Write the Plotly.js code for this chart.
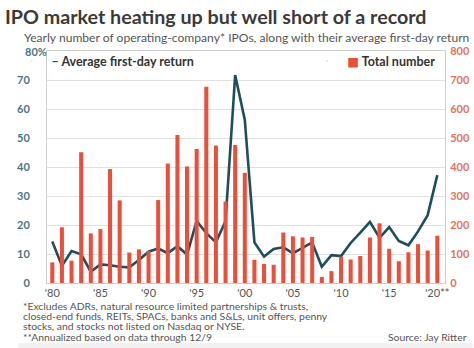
<!DOCTYPE html>
<html>
<head>
<meta charset="utf-8">
<script src="https://cdn.plot.ly/plotly-3.0.1.min.js"></script>
<style>
html,body{margin:0;padding:0;background:#fff;}
#chart{width:474px;height:348px;}
</style>
</head>
<body>
<div id="chart"></div>
<script>
// ---- Data ----
const years = [1980,1981,1982,1983,1984,1985,1986,1987,1988,1989,
               1990,1991,1992,1993,1994,1995,1996,1997,1998,1999,
               2000,2001,2002,2003,2004,2005,2006,2007,2008,2009,
               2010,2011,2012,2013,2014,2015,2016,2017,2018,2019,2020];
const totalNumber = [71,192,77,451,171,186,393,285,105,116,
                     110,286,412,510,402,462,677,474,281,476,
                     380,80,66,63,174,161,157,159,21,41,
                     91,81,93,157,206,118,75,106,134,112,163];
const avgFirstDayReturn = [14.3,5.9,11.0,9.9,3.9,6.4,6.1,5.6,5.4,7.9,
                           10.8,11.9,10.3,12.7,9.8,21.4,17.2,14.0,21.4,71.7,
                           56.2,14.0,9.1,11.7,12.3,10.3,12.1,14.0,5.6,9.6,
                           9.3,13.8,17.4,21.1,15.6,19.3,14.5,13.0,17.8,23.4,37.2];
const xTickVals = [1980,1985,1990,1995,2000,2005,2010,2015,2020];
const xTickText = ["'80","'85","'90","'95","'00","'05","'10","'15","'20**"];
const leftTickVals = [0,10,20,30,40,50,60,70];
const rightTickVals = [0,100,200,300,400,500,600,700,800];

const TEAL = '#1e4d5c';
const RED = '#e9503b';
const LEFTTICK = '#4b7580';
const RIGHTTICK = '#de7461';
const FONT = 'Lato, "Open Sans", sans-serif';

const traces = [
  {
    type: 'bar', x: years, y: totalNumber, yaxis: 'y2',
    marker: {color: RED}, width: 0.42, showlegend: false, hoverinfo: 'x+y'
  },
  {
    type: 'scatter', mode: 'lines', x: years, y: avgFirstDayReturn, yaxis: 'y',
    line: {color: TEAL, width: 2.6}, showlegend: false
  },
  // legend entries
  {
    type: 'scatter', mode: 'markers', x: [null], y: [null],
    marker: {opacity: 0, size: 1},
    name: '<span style="color:' + TEAL + '">–</span> Average first-day return',
    legend: 'legend', showlegend: true
  },
  {
    type: 'scatter', mode: 'markers', x: [null], y: [null],
    marker: {opacity: 0, size: 1},
    name: '<span style="color:' + RED + ';font-family:DejaVu Sans">■</span> Total number',
    legend: 'legend2', showlegend: true
  }
];

const H = 232;
function py(p){ return (283 - p) / H; }
function px(p){ return (p - 30) / 415; }

const NOTE = {family: FONT, size: 10.4, color: '#555'};

const layout = {
  width: 474, height: 348,
  margin: {l: 30, r: 29, t: 51, b: 65},
  paper_bgcolor: '#fff', plot_bgcolor: '#fff',
  font: {family: FONT, color: '#444'},
  title: {
    text: '<b>IPO market heating up but well short of a record</b>',
    font: {family: FONT, size: 19.7, color: '#3a3a3a'},
    x: 5/474, xref: 'container', xanchor: 'left',
    y: 1 - 17/348, yref: 'container', yanchor: 'middle'
  },
  xaxis: {
    range: [1979.45, 2020.8], tickvals: xTickVals, ticktext: xTickText,
    tickfont: {size: 11, color: '#555'}, ticks: '', showgrid: false, zeroline: false,
    showline: true, linecolor: '#cfcfcf', linewidth: 1, mirror: true,
    ticklabelstandoff: 0
  },
  yaxis: {
    range: [0, 80], tickvals: leftTickVals, gridcolor: '#e0e0e0', gridwidth: 1,
    tickfont: {size: 11, color: LEFTTICK, weight: 'bold'}, ticks: '',
    showline: true, linecolor: '#cfcfcf', linewidth: 1, zeroline: false,
    ticklabelstandoff: 14
  },
  yaxis2: {
    range: [0, 800], tickvals: rightTickVals, overlaying: 'y', side: 'right',
    showgrid: false, zeroline: false, ticks: '',
    tickfont: {size: 11, color: RIGHTTICK, weight: 'bold'},
    showline: true, linecolor: '#cfcfcf', linewidth: 1, ticklabelstandoff: 2
  },
  legend: {
    x: px(-7), xanchor: 'left', y: py(61), yanchor: 'middle',
    bgcolor: 'rgba(0,0,0,0)', borderwidth: 0, itemwidth: 30,
    font: {family: FONT, size: 12.5, color: '#333', weight: 'bold'}
  },
  legend2: {
    x: px(440), xanchor: 'right', y: py(61), yanchor: 'middle',
    bgcolor: 'rgba(0,0,0,0)', borderwidth: 0, itemwidth: 30,
    font: {family: FONT, size: 12.5, color: '#333', weight: 'bold'}
  },
  shapes: [
    {type: 'rect', xref: 'paper', yref: 'paper', x0: px(0), x1: px(474),
     y0: py(348), y1: py(343), fillcolor: '#f1f1f1', line: {width: 0}, layer: 'below'}
  ],
  annotations: [
    {text: 'Yearly number of operating-company* IPOs, along with their average first-day return',
     xref: 'paper', yref: 'paper', x: px(4), y: py(38), xanchor: 'left', yanchor: 'middle',
     showarrow: false, font: {family: FONT, size: 12.1, color: '#555'}},
    {text: '80%', xref: 'paper', yref: 'y', x: px(5), y: 80, xanchor: 'left', yanchor: 'middle',
     showarrow: false, font: {family: FONT, size: 11, color: LEFTTICK, weight: 'bold'}},
    {text: '*Excludes ADRs, natural resource limited partnerships & trusts,',
     xref: 'paper', yref: 'paper', x: px(3), y: py(306), xanchor: 'left', yanchor: 'middle',
     showarrow: false, font: NOTE},
    {text: 'closed-end funds, REITs, SPACs, banks and S&Ls, unit offers, penny',
     xref: 'paper', yref: 'paper', x: px(3), y: py(316), xanchor: 'left', yanchor: 'middle',
     showarrow: false, font: NOTE},
    {text: 'stocks, and stocks not listed on Nasdaq or NYSE.',
     xref: 'paper', yref: 'paper', x: px(3), y: py(326), xanchor: 'left', yanchor: 'middle',
     showarrow: false, font: NOTE},
    {text: '**Annualized based on data through 12/9',
     xref: 'paper', yref: 'paper', x: px(3), y: py(337), xanchor: 'left', yanchor: 'middle',
     showarrow: false, font: NOTE},
    {text: 'Source: Jay Ritter',
     xref: 'paper', yref: 'paper', x: px(470), y: py(337), xanchor: 'right', yanchor: 'middle',
     showarrow: false, font: NOTE}
  ]
};

Plotly.newPlot('chart', traces, layout, {displayModeBar: false, staticPlot: true});
</script>
</body>
</html>
